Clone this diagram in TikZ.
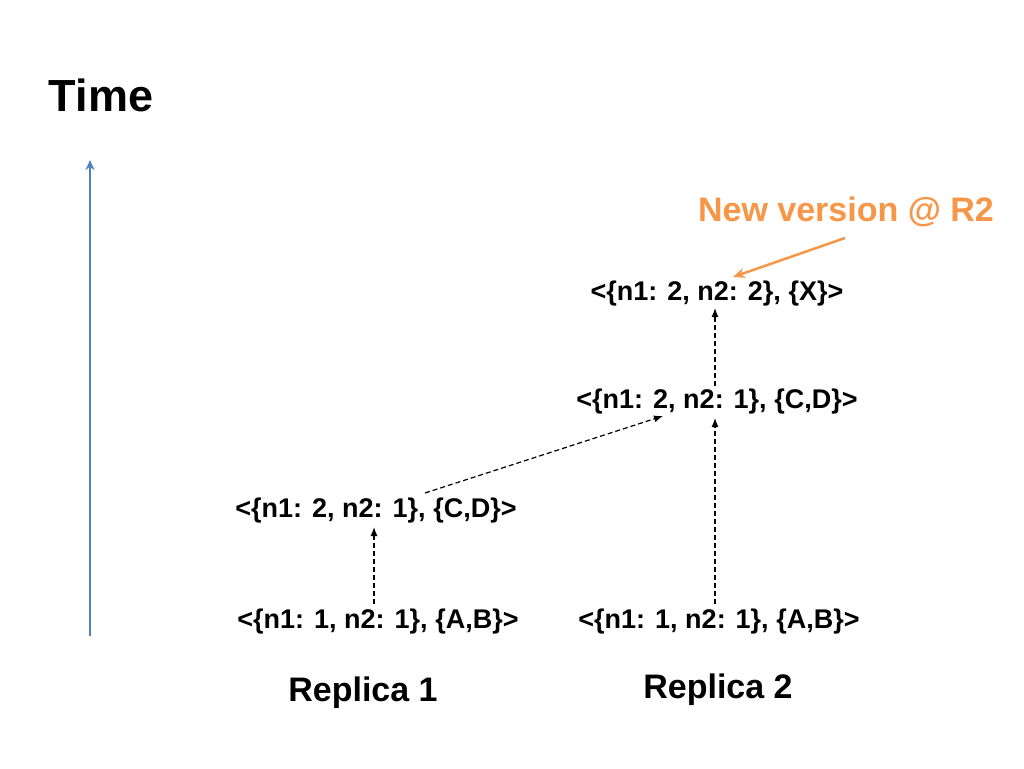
\documentclass[tikz,border=0pt]{standalone}
\usepackage{fontspec}
\setmainfont{Liberation Sans}
\usetikzlibrary{arrows.meta}
\begin{document}
\begin{tikzpicture}[x=1pt,y=-1pt,
  lbl/.style={font=\fontsize{27}{30}\selectfont\bfseries, inner sep=0pt},
  big/.style={font=\fontsize{34}{38}\selectfont\bfseries},
  dar/.style={dash pattern=on 5pt off 3pt, -{Latex[length=9pt,width=7pt]}, line width=1.2pt}]
\useasboundingbox (0,0) rectangle (1024,768);
\node[font=\fontsize{45}{50}\selectfont\bfseries] (time) at (101,95) {Time};
\coordinate (tb) at (90,636);
\coordinate (tt) at (90,160);
\draw[line width=2.5pt, color={rgb,255:red,79;green,129;blue,189}, -{Stealth[length=10pt,width=9pt]}] (tb) -- (tt);
\node[big, text={rgb,255:red,247;green,150;blue,70}] (nv) at (846,212) {New version @ R2};
\node[lbl] (r2c) at (717,294) {<\{n1: 2, n2: 2\}, \{X\}>};
\node[lbl] (r2b) at (717,402) {<\{n1: 2, n2: 1\}, \{C,D\}>};
\node[lbl] (r1b) at (376,511) {<\{n1: 2, n2: 1\}, \{C,D\}>};
\node[lbl] (r1a) at (378,622) {<\{n1: 1, n2: 1\}, \{A,B\}>};
\node[lbl] (r2a) at (719,622) {<\{n1: 1, n2: 1\}, \{A,B\}>};
\coordinate (nvs) at (845,238);
\draw[line width=2.5pt, color={rgb,255:red,247;green,150;blue,70}, -{Stealth[length=12pt,width=10pt]}] (nvs) -- (733,277);
\draw[dar] ([xshift=-4pt,yshift=18pt]r1a.center) -- ([xshift=-2pt,yshift=-16pt]r1b.center);
\draw[dar] ([xshift=-4pt,yshift=18pt]r2a.center) -- ([xshift=-2pt,yshift=-16pt]r2b.center);
\draw[dar] ([xshift=-2pt,yshift=16pt]r2b.center) -- ([xshift=-2pt,yshift=-14pt]r2c.center);
\draw[dar] ([xshift=49pt,yshift=18pt]r1b.center) -- ([xshift=-54pt,yshift=-14pt]r2b.center);
\node[big] (rep1) at (363,693) {Replica 1};
\node[big] (rep2) at (718,690) {Replica 2};
\end{tikzpicture}
\end{document}
